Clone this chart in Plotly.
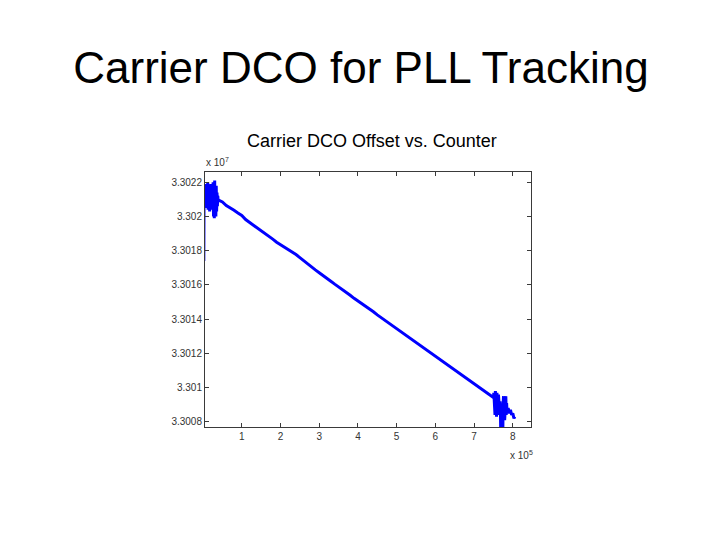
import plotly.graph_objects as go

# Counter values in units of 1e5, DCO offset in units of 1e7
start_x = [0.05, 0.06, 0.07, 0.08, 0.09, 0.10, 0.11, 0.12, 0.13, 0.14, 0.15, 0.16,
           0.17, 0.18, 0.19, 0.20, 0.21, 0.22, 0.23, 0.24, 0.25, 0.26, 0.27, 0.28,
           0.29, 0.30, 0.31, 0.32, 0.33, 0.34, 0.35, 0.36, 0.37, 0.38, 0.39]
start_y = [3.30174, 3.30218, 3.30206, 3.30219, 3.30205, 3.30216, 3.30208, 3.30220,
           3.30204, 3.30215, 3.30207, 3.30218, 3.30203, 3.30214, 3.30209, 3.30219,
           3.30205, 3.30216, 3.30204, 3.30213, 3.30206, 3.30220, 3.30200, 3.30217,
           3.30199, 3.30221, 3.30202, 3.30215, 3.30200, 3.30218, 3.30203, 3.30214,
           3.30206, 3.30212, 3.30209]

main_x = [0.4, 0.5, 0.6, 0.7, 0.8, 0.9, 1.0, 1.1, 1.2, 1.3, 1.4, 1.5, 1.6, 1.7, 1.8,
          1.9, 2.0, 2.1, 2.2, 2.3, 2.4, 2.5, 2.6, 2.7, 2.8, 2.9, 3.0, 3.1, 3.2, 3.3,
          3.4, 3.5, 3.6, 3.7, 3.8, 3.9, 4.0, 4.1, 4.2, 4.3, 4.4, 4.5, 4.6, 4.7, 4.8,
          4.9, 5.0, 5.1, 5.2, 5.3, 5.4, 5.5, 5.6, 5.7, 5.8, 5.9, 6.0, 6.1, 6.2, 6.3,
          6.4, 6.5, 6.6, 6.7, 6.8, 6.9, 7.0, 7.1, 7.2, 7.3, 7.4, 7.5]
main_y = [3.302096, 3.302085, 3.302064, 3.302052, 3.302036, 3.302020, 3.302006,
          3.301982, 3.301966, 3.301953, 3.301932, 3.301916, 3.301901, 3.301884,
          3.301868, 3.301850, 3.301836, 3.301822, 3.301806, 3.301790, 3.301778,
          3.301760, 3.301741, 3.301722, 3.301705, 3.301688, 3.301671, 3.301656,
          3.301640, 3.301622, 3.301605, 3.301590, 3.301574, 3.301556, 3.301540,
          3.301522, 3.301507, 3.301491, 3.301474, 3.301458, 3.301443, 3.301425,
          3.301409, 3.301393, 3.301375, 3.301360, 3.301344, 3.301328, 3.301311,
          3.301296, 3.301278, 3.301262, 3.301246, 3.301229, 3.301213, 3.301198,
          3.301181, 3.301165, 3.301149, 3.301132, 3.301117, 3.301101, 3.301086,
          3.301071, 3.301056, 3.301040, 3.301025, 3.301008, 3.300990, 3.300973,
          3.300958, 3.300942]

end_x = [7.51, 7.52, 7.53, 7.54, 7.55, 7.56, 7.57, 7.58, 7.59, 7.60, 7.61, 7.62,
         7.63, 7.64, 7.65, 7.66, 7.67, 7.68, 7.69, 7.72, 7.74, 7.75, 7.76, 7.77,
         7.78, 7.79, 7.80, 7.81, 7.82, 7.83, 7.84, 7.85, 7.88, 7.91, 7.94, 7.97,
         8.00, 8.03, 8.05]
end_y = [3.30097, 3.30085, 3.30096, 3.30084, 3.30098, 3.30086, 3.30095, 3.30083,
         3.30097, 3.30085, 3.30094, 3.30084, 3.30096, 3.30086, 3.30093, 3.30085,
         3.30092, 3.30088, 3.30070, 3.30070, 3.30070, 3.30090, 3.30095, 3.30082,
         3.30094, 3.30081, 3.30093, 3.30083, 3.30095, 3.30084, 3.30091, 3.30086,
         3.30088, 3.30085, 3.30087, 3.30084, 3.30085, 3.30082, 3.30083]

x_ticks = [1, 2, 3, 4, 5, 6, 7, 8]
x_labels = ["1", "2", "3", "4", "5", "6", "7", "8"]
y_ticks = [3.3008, 3.3010, 3.3012, 3.3014, 3.3016, 3.3018, 3.3020, 3.3022]
y_labels = ["3.3008", "3.301", "3.3012", "3.3014", "3.3016", "3.3018", "3.302", "3.3022"]

FONT = "Liberation Sans, Arial, sans-serif"
AXC = "#3a3a3a"

fig = go.Figure()
# initial jump (drawn thin, as in the original where it hugs the axis)
fig.add_trace(go.Scatter(x=start_x[:2], y=start_y[:2], mode="lines",
                         line=dict(color="#5a5aff", width=1),
                         showlegend=False, hoverinfo="skip"))
fig.add_trace(go.Scatter(x=start_x[1:] + main_x + end_x,
                         y=start_y[1:] + main_y + end_y, mode="lines",
                         line=dict(color="#0000ff", width=3),
                         showlegend=False, hoverinfo="skip"))

axis_common = dict(showgrid=False, zeroline=False, showline=True, linecolor=AXC,
                   linewidth=1, mirror="ticks", ticks="inside", ticklen=4,
                   tickcolor=AXC, tickfont=dict(family=FONT, size=10, color="#333333"))

fig.update_xaxes(range=[0.05, 8.47], tickvals=x_ticks, ticktext=x_labels, **axis_common)
fig.update_yaxes(range=[3.30077, 3.30226], tickvals=y_ticks, ticktext=y_labels, **axis_common)

fig.update_layout(
    width=720, height=540,
    margin=dict(l=197, r=197, t=164, b=121, pad=0),
    paper_bgcolor="white", plot_bgcolor="white",
    title=dict(text="Carrier DCO for PLL Tracking", x=353 / 720, xanchor="center",
               y=1 - 60 / 540, yanchor="middle", yref="container",
               font=dict(family=FONT, size=44, color="black")),
    annotations=[
        dict(text="Carrier DCO Offset vs. Counter", xref="paper", yref="paper",
             x=0.513, y=1.12, xanchor="center", yanchor="middle", showarrow=False,
             font=dict(family=FONT, size=18, color="black")),
        dict(text="x 10<sup>7</sup>", xref="paper", yref="paper",
             x=-0.003, y=1.04, xanchor="left", yanchor="middle", showarrow=False,
             font=dict(family=FONT, size=10, color="#333333")),
        dict(text="x 10<sup>5</sup>", xref="paper", yref="paper",
             x=0.93, y=-0.11, xanchor="left", yanchor="middle", showarrow=False,
             font=dict(family=FONT, size=10, color="#333333")),
    ],
)

fig.write_html("out.html")
